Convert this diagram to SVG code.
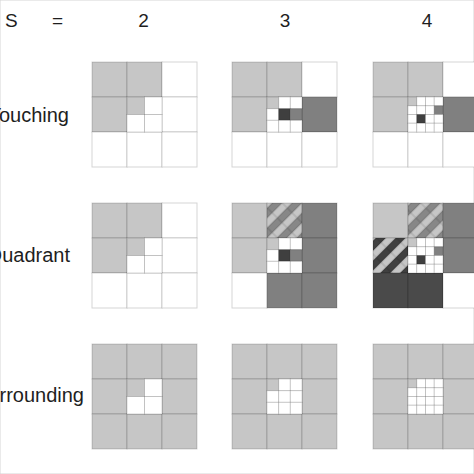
<svg xmlns="http://www.w3.org/2000/svg" width="474" height="474" viewBox="0 0 474 474">
<style>
rect{stroke:rgba(0,0,0,0.17);stroke-width:1}
.W{fill:#ffffff}
.L{fill:#c6c6c6}
.M{fill:#808080}
.D{fill:#3f3f3f}
.K{fill:#4a4a4a}
.HM{fill:url(#hatchM)}
.HD{fill:url(#hatchD)}
text{font-family:"Liberation Sans",Arial,sans-serif;font-size:19px;fill:#1e1e1e}
.lab{font-size:20px}
</style>
<defs>
<pattern id="hatchM" patternUnits="userSpaceOnUse" width="14" height="14" patternTransform="rotate(45)">
<rect x="0" y="0" width="14" height="14" fill="#c6c6c6" stroke="none"/>
<rect x="0" y="0" width="7" height="14" fill="#878787" stroke="none"/>
</pattern>
<pattern id="hatchD" patternUnits="userSpaceOnUse" width="14" height="14" patternTransform="rotate(45)">
<rect x="0" y="0" width="14" height="14" fill="#c6c6c6" stroke="none"/>
<rect x="0" y="0" width="7" height="14" fill="#404040" stroke="none"/>
</pattern>
</defs>
<rect width="474" height="474" fill="#ffffff" stroke="none"/>

<g id="header">
<text x="5" y="27">S</text>
<text x="52" y="27">=</text>
<text x="143.5" y="27" text-anchor="middle">2</text>
<text x="285" y="27" text-anchor="middle">3</text>
<text x="427" y="27" text-anchor="middle">4</text>
</g>
<g id="rowlabels">
<text class="lab" x="69" y="122" text-anchor="end">Touching</text>
<text class="lab" x="70" y="262" text-anchor="end">Quadrant</text>
<text class="lab" x="84" y="402" text-anchor="end">Surrounding</text>
</g>

<!-- Row 1: Touching -->
<g id="touching-s2">
<rect class="L" x="92" y="62" width="35" height="35"/>
<rect class="L" x="127" y="62" width="35" height="35"/>
<rect class="W" x="162" y="62" width="35" height="35"/>
<rect class="L" x="92" y="97" width="35" height="35"/>
<rect class="W" x="162" y="97" width="35" height="35"/>
<rect class="W" x="92" y="132" width="35" height="35"/>
<rect class="W" x="127" y="132" width="35" height="35"/>
<rect class="W" x="162" y="132" width="35" height="35"/>
<rect class="L" x="127" y="97" width="17.5" height="17.5"/>
<rect class="W" x="144.5" y="97" width="17.5" height="17.5"/>
<rect class="W" x="127" y="114.5" width="17.5" height="17.5"/>
<rect class="W" x="144.5" y="114.5" width="17.5" height="17.5"/>
</g>
<g id="touching-s3">
<rect class="L" x="232" y="62" width="35" height="35"/>
<rect class="L" x="267" y="62" width="35" height="35"/>
<rect class="W" x="302" y="62" width="35" height="35"/>
<rect class="L" x="232" y="97" width="35" height="35"/>
<rect class="M" x="302" y="97" width="35" height="35"/>
<rect class="W" x="232" y="132" width="35" height="35"/>
<rect class="W" x="267" y="132" width="35" height="35"/>
<rect class="W" x="302" y="132" width="35" height="35"/>
<rect class="L" x="267" y="97" width="11.67" height="11.67"/>
<rect class="W" x="278.67" y="97" width="11.67" height="11.67"/>
<rect class="W" x="290.33" y="97" width="11.67" height="11.67"/>
<rect class="W" x="267" y="108.67" width="11.67" height="11.67"/>
<rect class="D" x="278.67" y="108.67" width="11.67" height="11.67"/>
<rect class="M" x="290.33" y="108.67" width="11.67" height="11.67"/>
<rect class="W" x="267" y="120.33" width="11.67" height="11.67"/>
<rect class="W" x="278.67" y="120.33" width="11.67" height="11.67"/>
<rect class="W" x="290.33" y="120.33" width="11.67" height="11.67"/>
</g>
<g id="touching-s4">
<rect class="L" x="373" y="62" width="35" height="35"/>
<rect class="L" x="408" y="62" width="35" height="35"/>
<rect class="W" x="443" y="62" width="35" height="35"/>
<rect class="L" x="373" y="97" width="35" height="35"/>
<rect class="M" x="443" y="97" width="35" height="35"/>
<rect class="W" x="373" y="132" width="35" height="35"/>
<rect class="W" x="408" y="132" width="35" height="35"/>
<rect class="W" x="443" y="132" width="35" height="35"/>
<rect class="L" x="408" y="97" width="8.75" height="8.75"/>
<rect class="W" x="416.75" y="97" width="8.75" height="8.75"/>
<rect class="W" x="425.5" y="97" width="8.75" height="8.75"/>
<rect class="W" x="434.25" y="97" width="8.75" height="8.75"/>
<rect class="W" x="408" y="105.75" width="8.75" height="8.75"/>
<rect class="W" x="416.75" y="105.75" width="8.75" height="8.75"/>
<rect class="W" x="425.5" y="105.75" width="8.75" height="8.75"/>
<rect class="M" x="434.25" y="105.75" width="8.75" height="8.75"/>
<rect class="W" x="408" y="114.5" width="8.75" height="8.75"/>
<rect class="D" x="416.75" y="114.5" width="8.75" height="8.75"/>
<rect class="W" x="425.5" y="114.5" width="8.75" height="8.75"/>
<rect class="W" x="434.25" y="114.5" width="8.75" height="8.75"/>
<rect class="W" x="408" y="123.25" width="8.75" height="8.75"/>
<rect class="W" x="416.75" y="123.25" width="8.75" height="8.75"/>
<rect class="W" x="425.5" y="123.25" width="8.75" height="8.75"/>
<rect class="W" x="434.25" y="123.25" width="8.75" height="8.75"/>
</g>

<!-- Row 2: Quadrant -->
<g id="quadrant-s2">
<rect class="L" x="92" y="203" width="35" height="35"/>
<rect class="L" x="127" y="203" width="35" height="35"/>
<rect class="W" x="162" y="203" width="35" height="35"/>
<rect class="L" x="92" y="238" width="35" height="35"/>
<rect class="W" x="162" y="238" width="35" height="35"/>
<rect class="W" x="92" y="273" width="35" height="35"/>
<rect class="W" x="127" y="273" width="35" height="35"/>
<rect class="W" x="162" y="273" width="35" height="35"/>
<rect class="L" x="127" y="238" width="17.5" height="17.5"/>
<rect class="W" x="144.5" y="238" width="17.5" height="17.5"/>
<rect class="W" x="127" y="255.5" width="17.5" height="17.5"/>
<rect class="W" x="144.5" y="255.5" width="17.5" height="17.5"/>
</g>
<g id="quadrant-s3">
<rect class="L" x="232" y="203" width="35" height="35"/>
<rect class="HM" x="267" y="203" width="35" height="35"/>
<rect class="M" x="302" y="203" width="35" height="35"/>
<rect class="L" x="232" y="238" width="35" height="35"/>
<rect class="M" x="302" y="238" width="35" height="35"/>
<rect class="W" x="232" y="273" width="35" height="35"/>
<rect class="M" x="267" y="273" width="35" height="35"/>
<rect class="M" x="302" y="273" width="35" height="35"/>
<rect class="L" x="267" y="238" width="11.67" height="11.67"/>
<rect class="W" x="278.67" y="238" width="11.67" height="11.67"/>
<rect class="W" x="290.33" y="238" width="11.67" height="11.67"/>
<rect class="W" x="267" y="249.67" width="11.67" height="11.67"/>
<rect class="D" x="278.67" y="249.67" width="11.67" height="11.67"/>
<rect class="M" x="290.33" y="249.67" width="11.67" height="11.67"/>
<rect class="W" x="267" y="261.33" width="11.67" height="11.67"/>
<rect class="W" x="278.67" y="261.33" width="11.67" height="11.67"/>
<rect class="W" x="290.33" y="261.33" width="11.67" height="11.67"/>
</g>
<g id="quadrant-s4">
<rect class="L" x="373" y="203" width="35" height="35"/>
<rect class="HM" x="408" y="203" width="35" height="35"/>
<rect class="M" x="443" y="203" width="35" height="35"/>
<rect class="HD" x="373" y="238" width="35" height="35"/>
<rect class="M" x="443" y="238" width="35" height="35"/>
<rect class="K" x="373" y="273" width="35" height="35"/>
<rect class="K" x="408" y="273" width="35" height="35"/>
<rect class="W" x="443" y="273" width="35" height="35"/>
<rect class="L" x="408" y="238" width="8.75" height="8.75"/>
<rect class="W" x="416.75" y="238" width="8.75" height="8.75"/>
<rect class="W" x="425.5" y="238" width="8.75" height="8.75"/>
<rect class="W" x="434.25" y="238" width="8.75" height="8.75"/>
<rect class="W" x="408" y="246.75" width="8.75" height="8.75"/>
<rect class="W" x="416.75" y="246.75" width="8.75" height="8.75"/>
<rect class="W" x="425.5" y="246.75" width="8.75" height="8.75"/>
<rect class="M" x="434.25" y="246.75" width="8.75" height="8.75"/>
<rect class="W" x="408" y="255.5" width="8.75" height="8.75"/>
<rect class="D" x="416.75" y="255.5" width="8.75" height="8.75"/>
<rect class="W" x="425.5" y="255.5" width="8.75" height="8.75"/>
<rect class="W" x="434.25" y="255.5" width="8.75" height="8.75"/>
<rect class="W" x="408" y="264.25" width="8.75" height="8.75"/>
<rect class="W" x="416.75" y="264.25" width="8.75" height="8.75"/>
<rect class="W" x="425.5" y="264.25" width="8.75" height="8.75"/>
<rect class="W" x="434.25" y="264.25" width="8.75" height="8.75"/>
</g>

<!-- Row 3: Surrounding -->
<g id="surrounding-s2">
<rect class="L" x="92" y="344" width="35" height="35"/>
<rect class="L" x="127" y="344" width="35" height="35"/>
<rect class="L" x="162" y="344" width="35" height="35"/>
<rect class="L" x="92" y="379" width="35" height="35"/>
<rect class="L" x="162" y="379" width="35" height="35"/>
<rect class="L" x="92" y="414" width="35" height="35"/>
<rect class="L" x="127" y="414" width="35" height="35"/>
<rect class="L" x="162" y="414" width="35" height="35"/>
<rect class="L" x="127" y="379" width="17.5" height="17.5"/>
<rect class="W" x="144.5" y="379" width="17.5" height="17.5"/>
<rect class="W" x="127" y="396.5" width="17.5" height="17.5"/>
<rect class="W" x="144.5" y="396.5" width="17.5" height="17.5"/>
</g>
<g id="surrounding-s3">
<rect class="L" x="232" y="344" width="35" height="35"/>
<rect class="L" x="267" y="344" width="35" height="35"/>
<rect class="L" x="302" y="344" width="35" height="35"/>
<rect class="L" x="232" y="379" width="35" height="35"/>
<rect class="L" x="302" y="379" width="35" height="35"/>
<rect class="L" x="232" y="414" width="35" height="35"/>
<rect class="L" x="267" y="414" width="35" height="35"/>
<rect class="L" x="302" y="414" width="35" height="35"/>
<rect class="L" x="267" y="379" width="11.67" height="11.67"/>
<rect class="W" x="278.67" y="379" width="11.67" height="11.67"/>
<rect class="W" x="290.33" y="379" width="11.67" height="11.67"/>
<rect class="W" x="267" y="390.67" width="11.67" height="11.67"/>
<rect class="W" x="278.67" y="390.67" width="11.67" height="11.67"/>
<rect class="W" x="290.33" y="390.67" width="11.67" height="11.67"/>
<rect class="W" x="267" y="402.33" width="11.67" height="11.67"/>
<rect class="W" x="278.67" y="402.33" width="11.67" height="11.67"/>
<rect class="W" x="290.33" y="402.33" width="11.67" height="11.67"/>
</g>
<g id="surrounding-s4">
<rect class="L" x="373" y="344" width="35" height="35"/>
<rect class="L" x="408" y="344" width="35" height="35"/>
<rect class="L" x="443" y="344" width="35" height="35"/>
<rect class="L" x="373" y="379" width="35" height="35"/>
<rect class="L" x="443" y="379" width="35" height="35"/>
<rect class="L" x="373" y="414" width="35" height="35"/>
<rect class="L" x="408" y="414" width="35" height="35"/>
<rect class="L" x="443" y="414" width="35" height="35"/>
<rect class="L" x="408" y="379" width="8.75" height="8.75"/>
<rect class="W" x="416.75" y="379" width="8.75" height="8.75"/>
<rect class="W" x="425.5" y="379" width="8.75" height="8.75"/>
<rect class="W" x="434.25" y="379" width="8.75" height="8.75"/>
<rect class="W" x="408" y="387.75" width="8.75" height="8.75"/>
<rect class="W" x="416.75" y="387.75" width="8.75" height="8.75"/>
<rect class="W" x="425.5" y="387.75" width="8.75" height="8.75"/>
<rect class="W" x="434.25" y="387.75" width="8.75" height="8.75"/>
<rect class="W" x="408" y="396.5" width="8.75" height="8.75"/>
<rect class="W" x="416.75" y="396.5" width="8.75" height="8.75"/>
<rect class="W" x="425.5" y="396.5" width="8.75" height="8.75"/>
<rect class="W" x="434.25" y="396.5" width="8.75" height="8.75"/>
<rect class="W" x="408" y="405.25" width="8.75" height="8.75"/>
<rect class="W" x="416.75" y="405.25" width="8.75" height="8.75"/>
<rect class="W" x="425.5" y="405.25" width="8.75" height="8.75"/>
<rect class="W" x="434.25" y="405.25" width="8.75" height="8.75"/>
</g>
</svg>
